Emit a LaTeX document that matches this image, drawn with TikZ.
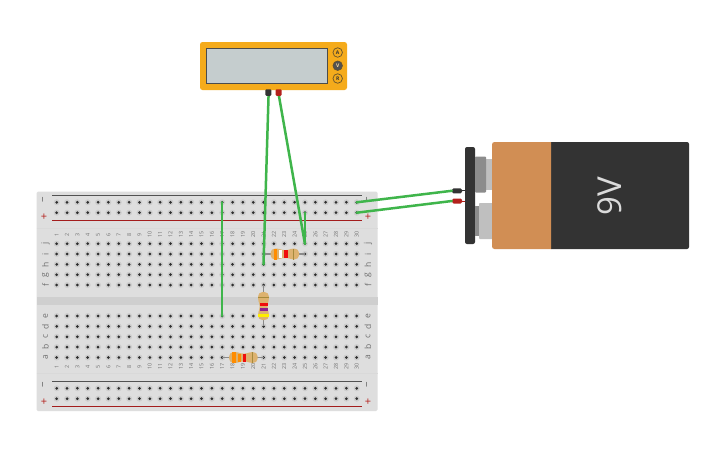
\documentclass[tikz,border=0pt]{standalone}
\usepackage{fontspec}
\setmainfont{Open Sans}
\definecolor{board}{HTML}{DEDEDE}
\definecolor{channel}{HTML}{CFCFCF}
\definecolor{halo}{HTML}{CDCDCD}
\definecolor{hole}{HTML}{2E2E2E}
\definecolor{wire}{HTML}{3FB54B}
\definecolor{railred}{HTML}{A31D1D}
\definecolor{lbl}{HTML}{6E6E6E}
\definecolor{meter}{HTML}{F5AB1B}
\definecolor{lcd}{HTML}{C5CDCE}
\definecolor{dark}{HTML}{333333}
\definecolor{rbody}{HTML}{DDB26F}
\definecolor{rlead}{HTML}{8A8A8A}
\definecolor{band1}{HTML}{FF8C00}
\definecolor{bandr}{HTML}{F00D0D}
\definecolor{bandp}{HTML}{8E1E8E}
\definecolor{bandy}{HTML}{FFEE00}
\definecolor{bandg}{HTML}{A58A3C}
\definecolor{cell}{HTML}{D18E54}
\definecolor{gmid}{HTML}{8C8C8C}
\definecolor{glight}{HTML}{BFBFBF}
\definecolor{redtip}{HTML}{B3201C}
\tikzset{
  jumper/.style={draw=wire,line width=2.5pt,line cap=round},
  railplus/.style={draw=railred,line width=1pt},
  railminus/.style={draw=dark!85,line width=1pt},
  tinylbl/.style={text=lbl,font=\fontsize{5.4}{6}\selectfont,rotate=90,inner sep=0pt},
  letterlbl/.style={text=lbl,font=\fontsize{8.5}{9}\selectfont,rotate=90,inner sep=0pt},
  railsign/.style={font=\fontsize{11}{11}\selectfont,inner sep=0pt},
  lead/.style={draw=rlead,line width=1.6pt},
  badge/.style={circle,draw=dark!75!meter,line width=.7pt,minimum size=9.5pt,inner sep=0pt,font=\fontsize{5}{5}\selectfont\bfseries,text=dark},
}
\newcommand{\holes}[1]{\foreach \cc in {0,...,29}{\fill[halo] ({56.7+\cc*10.345},#1) circle (3pt);\fill[hole] ({56.7+\cc*10.345},#1) circle (1.5pt);}}
% horizontal resistor: lead ends x1 x2, height y, then three band colour/position pairs
\newcommand{\hres}[9]{%
 \draw[lead] (#1,#3) -- (#2,#3);
 \fill[rbody,rounded corners=2.5pt] ({#1+7},{#3-3}) -- ({#1+10},{#3-5.5}) -- ({#1+15},{#3-5.5}) -- ({#1+18},{#3-4}) -- ({#2-16},{#3-4}) -- ({#2-13},{#3-5.5}) -- ({#2-9},{#3-5.5}) -- ({#2-5.8},{#3-3}) -- ({#2-5.8},{#3+3}) -- ({#2-9},{#3+5.5}) -- ({#2-13},{#3+5.5}) -- ({#2-16},{#3+4}) -- ({#1+18},{#3+4}) -- ({#1+15},{#3+5.5}) -- ({#1+10},{#3+5.5}) -- ({#1+7},{#3+3}) -- cycle;
 \fill[#4] ({#5-1.6},{#3-5.5}) rectangle ({#5+1.6},{#3+5.5});
 \fill[#6] ({#7-1.6},{#3-4}) rectangle ({#7+1.6},{#3+4});
 \fill[#8] ({#9-1.6},{#3-4}) rectangle ({#9+1.6},{#3+4});
}
\begin{document}
\begin{tikzpicture}[x=1pt,y=-1pt]
\useasboundingbox (0,0) rectangle (725,453);
\fill[white] (0,0) rectangle (725,453);
% breadboard
\fill[board,rounded corners=1.5pt] (36.5,191.5) rectangle (377.5,411);
\fill[channel] (36.5,297) rectangle (377.5,305);
\draw[white!85!black,line width=.6pt] (36.5,228.5) -- (377.5,228.5) (36.5,373.5) -- (377.5,373.5);
\draw[railminus] (52,195.7) -- (362,195.7);
\draw[railplus] (52,220.5) -- (362,220.5);
\draw[railminus] (52,381.5) -- (362,381.5);
\draw[railplus] (52,406) -- (362,406);
\holes{202.3}\holes{212.7}
\holes{243.7}\holes{254}\holes{264.4}\holes{274.7}\holes{285}
\holes{316}\holes{326.4}\holes{336.8}\holes{347.1}\holes{357.5}
\holes{388.3}\holes{398.7}
\foreach \cc in {1,...,30}{
  \node[tinylbl] at ({46.35+\cc*10.345},234.5) {\cc};
  \node[tinylbl] at ({46.35+\cc*10.345},366.5) {\cc};
}
\foreach \yy/\tt in {243.7/j,254/i,264.4/h,274.7/g,285/f,316/e,326.4/d,336.8/c,347.1/b,357.5/a}{
  \node[letterlbl] at (45.5,\yy) {\tt};
  \node[letterlbl] at (368,\yy) {\tt};
}
\foreach \xx in {44,368}{
  \node[railsign,text=lbl,rotate=90] at (\xx,199.5) {–};
  \node[railsign,text=redtip] at (\xx,217.5) {+};
  \node[railsign,text=lbl,rotate=90] at (\xx,384.5) {–};
  \node[railsign,text=redtip] at (\xx,402.5) {+};
}
% resistors
\hres{263.5}{304.9}{254}{band1}{275.3}{white}{280.5}{bandr}{286}
\fill[bandg] (292.6,248.5) rectangle (293.4,259.5);
\hres{222.1}{263.5}{357.5}{band1}{234}{band1}{239.5}{bandr}{244.7}
\fill[bandg] (252,352) rectangle (252.8,363);
% vertical resistor
\draw[lead] (263.5,285) -- (263.5,326.4);
\fill[rbody,rounded corners=2.5pt] (260.5,292) -- (258,295) -- (258,300) -- (259.5,303) -- (259.5,310) -- (258,313) -- (258,317) -- (260.5,320) -- (266.5,320) -- (269,317) -- (269,313) -- (267.5,310) -- (267.5,303) -- (269,300) -- (269,295) -- (266.5,292) -- cycle;
\fill[bandg] (258,296.6) rectangle (269,297.4);
\fill[bandr] (259.5,302.7) rectangle (267.5,305.9);
\fill[bandp] (259.5,308) rectangle (267.5,311.2);
\fill[bandy] (258,313.5) rectangle (269,316.7);
% multimeter
\node[fill=meter,rounded corners=2.5pt,minimum width=147pt,minimum height=48pt,inner sep=0pt] (mm) at (273.5,66) {};
\node[fill=lcd,draw=black!70,line width=1.3pt,minimum width=121pt,minimum height=35pt,inner sep=0pt] (lcdscr) at (267,66) {};
\node[badge] (ba) at (337.7,52.5) {A};
\node[badge,fill=dark!85,text=meter!40!white] (bv) at (337.7,65.7) {V};
\node[badge] (br) at (337.7,78.5) {R};
% wire ends
\coordinate (a17t) at (222.1,202.3);
\coordinate (a17b) at (222.1,316);
\coordinate (c21h) at (263.5,264.4);
\coordinate (c25j) at (304.9,243.7);
\coordinate (c25r) at (304.9,212.7);
\coordinate (r30a) at (356.7,202.3);
\coordinate (r30b) at (356.7,212.7);
\coordinate (pb) at (268.6,94);
\coordinate (pr) at (278.6,94);
\draw[jumper] (a17t) -- (a17b);
\draw[jumper] (pb) -- (c21h);
\draw[jumper] (pr) -- (c25j);
\draw[jumper] (c25r) -- (c25j);
% probes
\node[fill=dark,rounded corners=1pt,minimum width=6pt,minimum height=6.5pt,inner sep=0pt] (pblack) at (268.4,92.5) {};
\node[fill=redtip,rounded corners=1pt,minimum width=6pt,minimum height=6.5pt,inner sep=0pt] (pred) at (278.6,92.5) {};
% battery
\node[fill=dark,rounded corners=2pt,minimum width=10pt,minimum height=97pt,inner sep=0pt] (plate) at (470,195.5) {};
\fill[glight] (486,159) rectangle (492.5,190);
\fill[gmid,rounded corners=.8pt] (475,156.5) rectangle (486,192.5);
\fill[gmid] (475,206) rectangle (480,236);
\fill[glight,rounded corners=.8pt] (479,203) rectangle (493,239);
\fill[dark] (551,142) [rounded corners=2pt] -- (689,142) -- (689,249) [sharp corners] -- (551,249) -- cycle;
\fill[cell] (551,142) [rounded corners=2.5pt] -- (492,142) -- (492,249) [sharp corners] -- (551,249) -- cycle;
\node[rotate=90,text=white!86!black,font=\fontsize{33}{33}\selectfont,inner sep=0pt] (nine) at (610,196) {9V};
\node[fill=dark,rounded corners=1.5pt,minimum width=10pt,minimum height=5pt,inner sep=0pt] (tblack) at (457,190.8) {};
\node[fill=redtip,rounded corners=1.5pt,minimum width=10pt,minimum height=5pt,inner sep=0pt] (tred) at (457,201) {};
\draw[dark,line width=.8pt] (tblack) -- (plate.west |- tblack);
\draw[redtip,line width=.8pt] (tred) -- (plate.west |- tred);
\draw[jumper] (r30a) -- (tblack.west);
\draw[jumper] (r30b) -- (tred.west);
\end{tikzpicture}
\end{document}
